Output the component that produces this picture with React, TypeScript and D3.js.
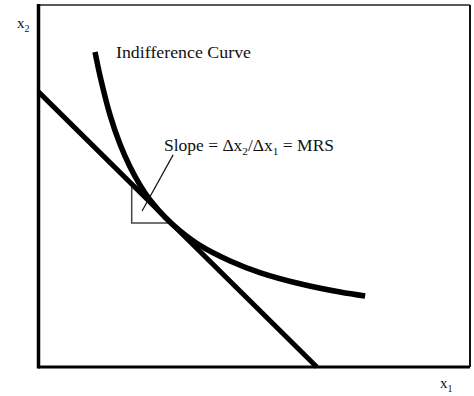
import React from "react";
import * as d3 from "d3";

// Indifference curve points (x1, x2)
const curveX1 = [1.31, 1.43, 1.66, 1.89, 2.12, 2.35, 2.58, 2.93, 3.28, 3.74, 4.44, 5.13, 6.06, 6.99, 7.57];
const curveX2 = [8.7, 8.02, 6.95, 6.15, 5.53, 5.03, 4.62, 4.14, 3.76, 3.36, 2.93, 2.61, 2.3, 2.07, 1.96];
// Budget line endpoints
const budgetX1 = [0, 6.45];
const budgetX2 = [7.6, 0];
// Slope triangle (x1, x2)
const triX1 = [2.16, 2.16, 3.08];
const triX2 = [5.07, 3.98, 3.98];
// Pointer from label to triangle
const ptrX1 = [3.12, 2.4];
const ptrX2 = [5.86, 4.31];

const W = 474, H = 396;
const left = 38.5, right = 470, top = 5, bottom = 367;

export default function App() {
  const x = d3.scaleLinear().domain([0, 10]).range([left, right]);
  const y = d3.scaleLinear().domain([0, 10]).range([bottom, top]);
  const pts = (xs: number[], ys: number[]) => xs.map((v, i) => [x(v), y(ys[i])] as [number, number]);
  const curvePath = d3.line().curve(d3.curveCatmullRom)(pts(curveX1, curveX2)) || "";
  const budgetPath = d3.line()(pts(budgetX1, budgetX2)) || "";
  const triPath = d3.line()(pts(triX1, triX2)) || "";
  const ptrPath = d3.line()(pts(ptrX1, ptrX2)) || "";
  const font = "'Liberation Serif', 'DejaVu Serif', serif";
  return (
    <svg width={W} height={H} style={{ position: "absolute", left: 0, top: 0, background: "#fff" }}>
      <rect x={0} y={0} width={W} height={H} fill="#fff" />
      {/* frame */}
      <line x1={left} y1={top} x2={right} y2={top} stroke="#222" strokeWidth={1.5} />
      <line x1={right} y1={top} x2={right} y2={bottom} stroke="#111" strokeWidth={2} />
      <line x1={left} y1={bottom} x2={right} y2={bottom} stroke="#000" strokeWidth={3} />
      <line x1={left} y1={top - 1} x2={left} y2={bottom + 1.5} stroke="#000" strokeWidth={3.5} />
      {/* triangle */}
      <path d={triPath} fill="none" stroke="#444" strokeWidth={1.5} />
      {/* budget line */}
      <path d={budgetPath} fill="none" stroke="#000" strokeWidth={5} />
      {/* indifference curve */}
      <path d={curvePath} fill="none" stroke="#000" strokeWidth={5.5} />
      {/* pointer */}
      <path d={ptrPath} fill="none" stroke="#111" strokeWidth={1.2} />
      {/* labels */}
      <text x={17} y={28} fontFamily={font} fontSize={15} fill="#111">
        x<tspan fontSize={10} dy={4}>2</tspan>
      </text>
      <text x={116} y={58} fontFamily={font} fontSize={17} fill="#111" textLength={135} lengthAdjust="spacingAndGlyphs">
        Indifference Curve
      </text>
      <text x={164} y={151} fontFamily={font} fontSize={17} fill="#111" textLength={170} lengthAdjust="spacingAndGlyphs">
        Slope = Δx<tspan fontSize={11} dy={4}>2</tspan><tspan dy={-4}>/Δx</tspan><tspan fontSize={11} dy={4}>1</tspan><tspan dy={-4}> = MRS</tspan>
      </text>
      <text x={440} y={388} fontFamily={font} fontSize={15} fill="#111">
        x<tspan fontSize={10} dy={4}>1</tspan>
      </text>
    </svg>
  );
}
